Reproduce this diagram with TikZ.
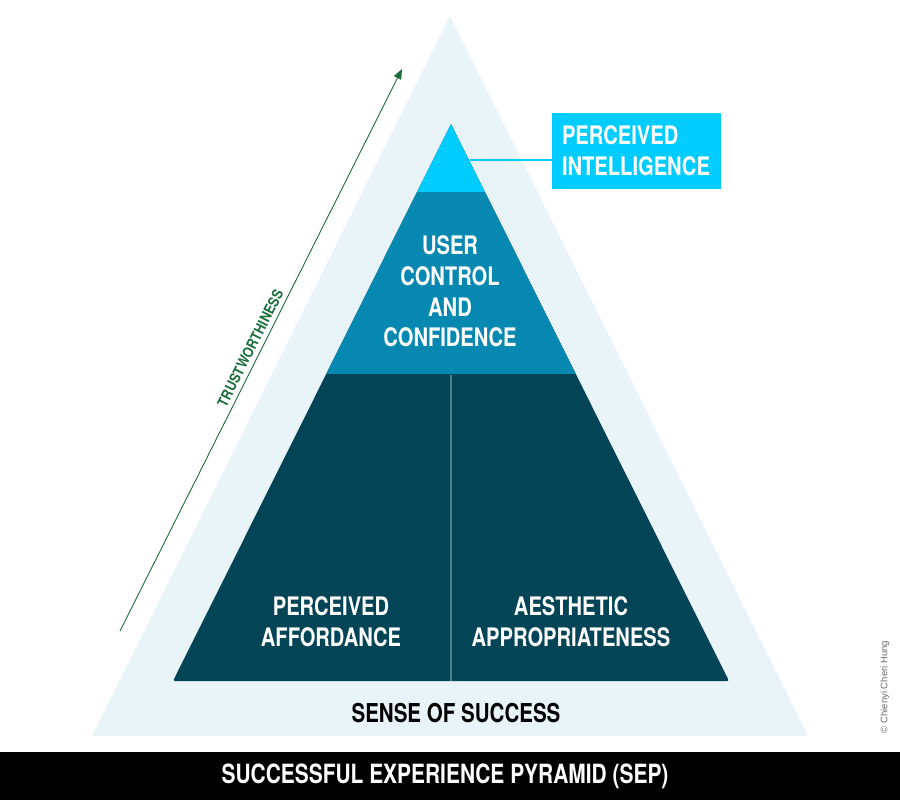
\documentclass[tikz,border=0pt]{standalone}
\usepackage{fontspec}
\setmainfont{TeX Gyre Heros}[FakeStretch=0.79]
\newfontfamily\trustfont{TeX Gyre Heros}[FakeStretch=0.88]
\newfontfamily\copyfont{Liberation Sans}
\usetikzlibrary{arrows.meta}
\definecolor{paleblue}{HTML}{E8F4F7}
\definecolor{tipcyan}{HTML}{00CCFF}
\definecolor{midteal}{HTML}{0788B0}
\definecolor{darkteal}{HTML}{034457}
\definecolor{divider}{HTML}{4E7F8F}
\definecolor{trustgreen}{HTML}{1B6E3C}
\definecolor{copygray}{HTML}{6A6A6A}
\tikzset{
  layertext/.style={text=white, align=center, font=\bfseries\fontsize{25.5}{30.7}\selectfont, inner sep=0pt},
  darktext/.style={text=black, align=center, font=\bfseries\fontsize{26}{30.7}\selectfont, inner sep=0pt},
  titletext/.style={text=white, align=center, font=\bfseries\fontsize{26.5}{30.7}\selectfont, inner sep=0pt},
  labelbox/.style={fill=tipcyan, text=white, align=left, font=\bfseries\fontsize{25.5}{30.7}\selectfont,
    minimum width=169pt, minimum height=76pt, text width=149pt, inner xsep=10pt, inner ysep=0pt},
  trustarrow/.style={draw=trustgreen, line width=0.9pt, -{Triangle[length=10pt,width=8pt]}},
}
\begin{document}
\begin{tikzpicture}[x=1pt,y=-1pt]
\useasboundingbox (0,0) rectangle (900,800);
% outer pale triangle
\fill[paleblue] (450,16) -- (92,736) -- (808,736) -- cycle;
% inner pyramid
\coordinate (apex) at (451,124);
\coordinate (bl) at (173,681);
\coordinate (br) at (729,681);
\fill[darkteal] (apex) [rounded corners=2pt] -- (bl) -- (br) [sharp corners] -- cycle;
\begin{scope}
  \clip (apex) -- (bl) -- (br) -- cycle;
  \fill[midteal] (100,192) rectangle (800,374);
  \fill[tipcyan] (100,100) rectangle (800,192);
\end{scope}
% divider
\coordinate (divtop) at (451,375);
\coordinate (divbot) at (451,681);
\draw[divider, line width=2.5pt] (divtop) -- (divbot);
% label box and connector
\node[labelbox] (pi) at (636.5,151) {PERCEIVED\\INTELLIGENCE};
\coordinate (tipedge) at (470,160);
\draw[tipcyan, line width=1.3pt] (tipedge) -- (pi.west |- tipedge);
% layer texts
\node[layertext] (ucc) at (450,291.5) {USER\\CONTROL\\AND\\CONFIDENCE};
\node[layertext] (pa) at (331,621.5) {PERCEIVED\\AFFORDANCE};
\node[layertext] (aa) at (571,621.5) {AESTHETIC\\APPROPRIATENESS};
\node[darktext] (sos) at (456,713) {SENSE OF SUCCESS};
% bottom bar
\fill[black] (0,752) rectangle (900,800);
\node[titletext] (title) at (445,776) {SUCCESSFUL EXPERIENCE PYRAMID (SEP)};
% trustworthiness arrow
\coordinate (arrs) at (120,631);
\coordinate (arre) at (402,69);
\draw[trustarrow] (arrs) -- node[sloped, above=3pt, inner sep=1.5pt, text=trustgreen, font=\trustfont\bfseries\fontsize{14.5}{16}\selectfont, pos=0.495] (trust) {TRUSTWORTHINESS} (arre);
% copyright
\node[rotate=90, text=copygray, font=\copyfont\fontsize{9.5}{11}\selectfont, inner sep=0pt] (copy) at (885,687) {\textcopyright{} Chienyi Cheri Hung};
\end{tikzpicture}
\end{document}
